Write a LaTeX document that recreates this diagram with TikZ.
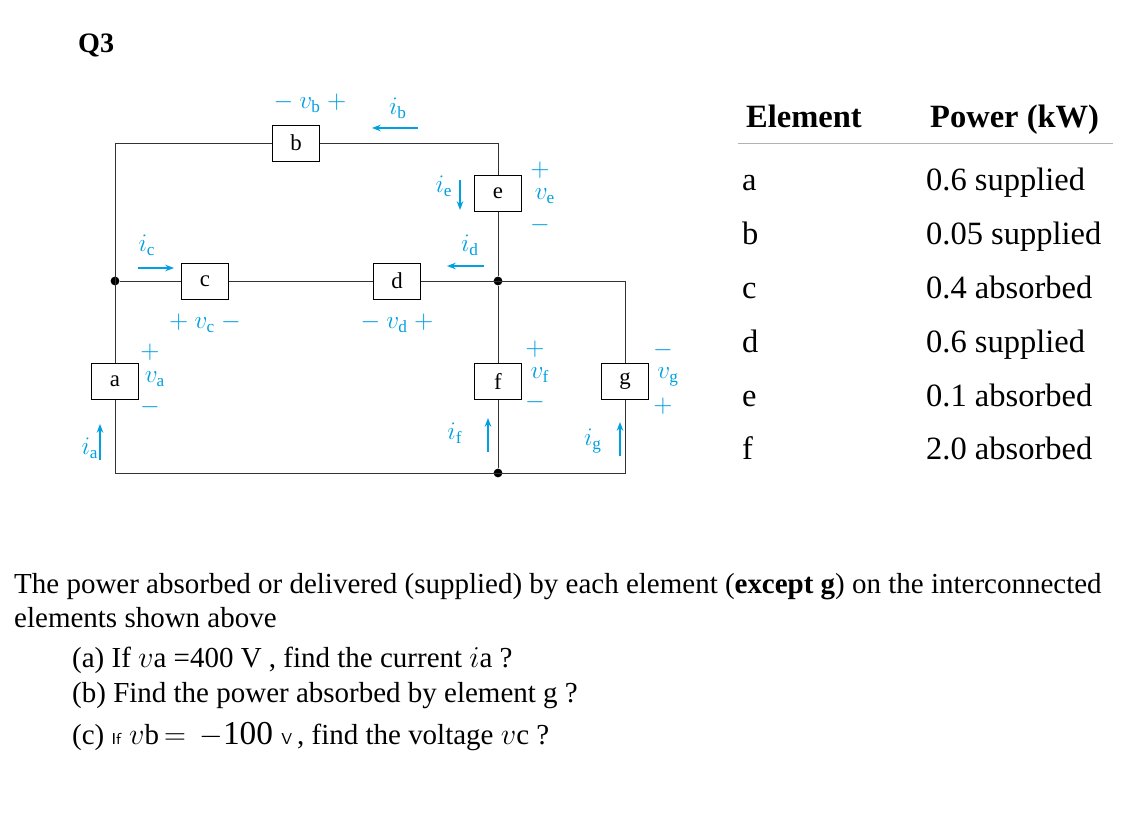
\documentclass[tikz,border=0pt]{standalone}
\usepackage{fontspec}
\setmainfont{Liberation Serif}
\usepackage{tikz}
\usetikzlibrary{arrows.meta, calc}
\definecolor{cblue}{RGB}{0,160,225}

\begin{document}
\begin{tikzpicture}[x=0.02cm, y=-0.02cm]

% Styles
\tikzset{box/.style={draw, fill = white, minimum width = 0.95cm, minimum height = 0.72cm, inner sep = 0pt, font = \fontsize{13}{13}\selectfont}}
\tikzset{lbl/.style={color = cblue, inner sep = 1pt, font = \fontsize{14}{14}\selectfont}}
\tikzset{cur/.style={color = cblue, thick, -{Stealth[length=5pt]}}}
\tikzset{dot/.style={circle, fill = black, inner sep = 0pt, minimum size = 5pt}}
\tikzset{tab/.style={anchor = base west, font = \fontsize{18.5}{18.5}\selectfont}}
\tikzset{txt/.style={anchor = base west, font = \fontsize{16.5}{16.5}\selectfont}}

\useasboundingbox (0,0) rectangle (1133,821);

\node [anchor = west, font = \bfseries\fontsize{16}{16}\selectfont] (q) at (72,45) {Q3};

% Corner nodes
\coordinate (tl) at (115,143);
\coordinate (tr) at (498,143);
\node (nl) [dot] at (115,281) {};
\node (nm) [dot] at (498,281) {};
\coordinate (mr) at (625,281);
\coordinate (bl) at (115,473);
\node (nb) [dot] at (498,473) {};
\coordinate (br) at (625,473);

% Wires
\draw[gray!40!black] (bl) -- (tl) -- (tr) -- (nm) -- (nb);
\draw[gray!40!black] (nl) -- (mr) -- (br) -- (bl);

% Elements
\node (a) [box] at (115,381) {a};
\node (b) [box] at (296,143) {b};
\node (c) [box] at (205,281) {c};
\node (d) [box] at (397,281) {d};
\node (e) [box] at (498,193) {e};
\node (f) [box] at (498,381) {f};
\node (g) [box] at (625,381) {g};

% Voltage labels
\node (vb) [lbl] at ($ (b) + (14,-40) $) {$-\ v_{\mathrm b}\ +$};
\node (vc) [lbl] at ($ (c) + (0,42) $) {$+\ v_{\mathrm c}\ -$};
\node (vd) [lbl] at ($ (d) + (0,42) $) {$-\ v_{\mathrm d}\ +$};
\node (va) [lbl] at ($ (a) + (40,-2) $) {$v_{\mathrm a}$};
\node [lbl] at ($ (va) + (-5,-27) $) {$+$};
\node [lbl] at ($ (va) + (-5,28) $) {$-$};
\node (ve) [lbl] at ($ (e) + (47,3) $) {$v_{\mathrm e}$};
\node [lbl] at ($ (ve) + (-5,-26) $) {$+$};
\node [lbl] at ($ (ve) + (-5,29) $) {$-$};
\node (vf) [lbl] at ($ (f) + (42,-6) $) {$v_{\mathrm f}$};
\node [lbl] at ($ (vf) + (-5,-26) $) {$+$};
\node [lbl] at ($ (vf) + (-5,27) $) {$-$};
\node (vg) [lbl] at ($ (g) + (43,-4) $) {$v_{\mathrm g}$};
\node [lbl] at ($ (vg) + (-5,-27) $) {$-$};
\node [lbl] at ($ (vg) + (-5,29) $) {$+$};

% Current labels and arrows
\node (ib) [lbl] at (398,108) {$i_{\mathrm b}$};
\coordinate (ib1) at (418,128); \coordinate (ib2) at (372,128);
\draw[cur] (ib1) -- (ib2);
\node (ie) [lbl] at (444,186) {$i_{\mathrm e}$};
\coordinate (ie1) at (460,180); \coordinate (ie2) at (460,210);
\draw[cur] (ie1) -- (ie2);
\node (ic) [lbl] at (147,245) {$i_{\mathrm c}$};
\coordinate (ic1) at (138,268); \coordinate (ic2) at (174,268);
\draw[cur] (ic1) -- (ic2);
\node (id) [lbl] at (470,245) {$i_{\mathrm d}$};
\coordinate (id1) at (484,266); \coordinate (id2) at (447,266);
\draw[cur] (id1) -- (id2);
\node (ia) [lbl] at (90,448) {$i_{\mathrm a}$};
\coordinate (ia1) at (100,460); \coordinate (ia2) at (100,424);
\draw[cur] (ia1) -- (ia2);
\node (if) [lbl] at (455,433) {$i_{\mathrm f}$};
\coordinate (if1) at (488,452); \coordinate (if2) at (488,418);
\draw[cur] (if1) -- (if2);
\node (ig) [lbl] at (593,441) {$i_{\mathrm g}$};
\coordinate (ig1) at (620,456); \coordinate (ig2) at (620,422);
\draw[cur] (ig1) -- (ig2);

% Table
\node (th1) [tab, font = \bfseries\fontsize{18.5}{18.5}\selectfont] at (740,128) {Element};
\node (th2) [tab, font = \bfseries\fontsize{18.5}{18.5}\selectfont] at (924,128) {Power (kW)};
\coordinate (r1) at (738,143); \coordinate (r2) at (1113,143);
\draw[gray!60] (r1) -- (r2);
\foreach \el/\pw [count = \k] in {a/0.6 supplied, b/0.05 supplied, c/0.4 absorbed, d/0.6 supplied, e/0.1 absorbed, f/2.0 absorbed} {
  \node (el\k) [tab] at (736, 137 + 53.8*\k) {\el};
  \node (pw\k) [tab] at (920, 137 + 53.8*\k) {\pw};
}

% Question text
\node (t1) [txt] at (8,593) {The power absorbed or delivered (supplied) by each element (\textbf{except g}) on the interconnected};
\node (t2) [txt] at (8,627) {elements shown above};
\node (qa) [txt] at (66,667) {(a) If $v$a =400 V , find the current $i$a ?};
\node (qb) [txt] at (66,702) {(b) Find the power absorbed by element g ?};
\node (qc) [txt] at (66,744) {(c) \textsf{\small If} $v$b$\,=\,-$\fontsize{19}{19}\selectfont 100 \textsf{\small V}\fontsize{16.5}{16.5}\selectfont\,, find the voltage $v$c ?};

\end{tikzpicture}
\end{document}
